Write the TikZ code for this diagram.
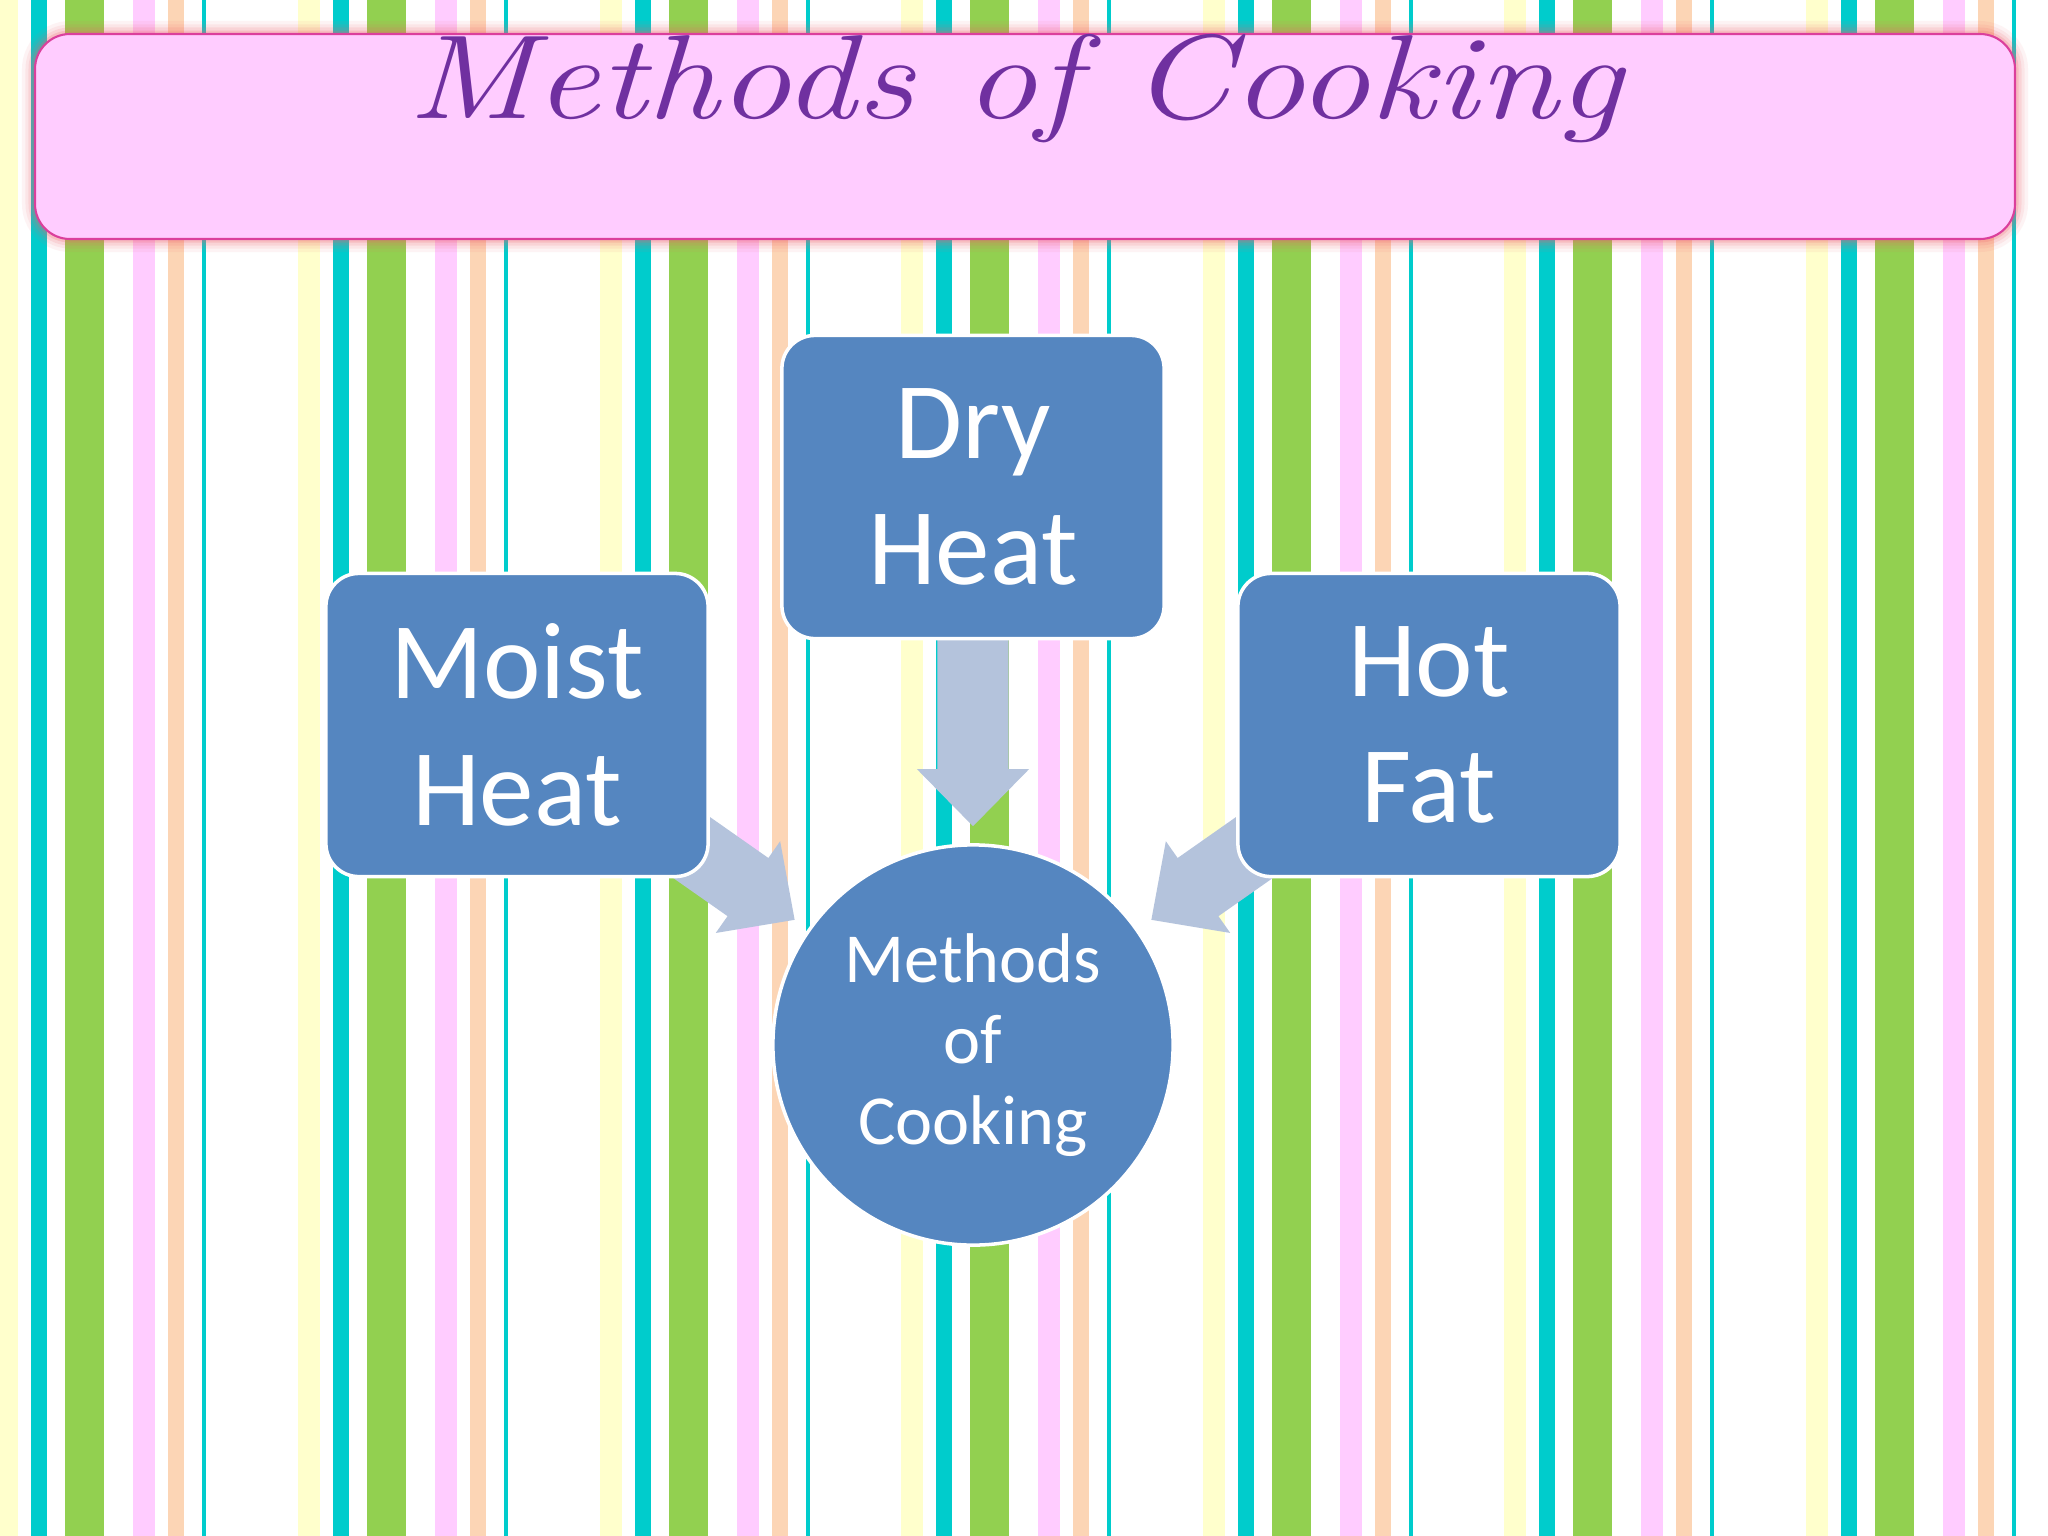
\documentclass[tikz,border=0pt]{standalone}
\usepackage{fontspec}
\newfontfamily\calib{Carlito}
\usetikzlibrary{calc}
\definecolor{styel}{HTML}{FFFFCC}
\definecolor{stcyan}{HTML}{00CCCC}
\definecolor{stgreen}{HTML}{92D050}
\definecolor{stpink}{HTML}{FFCCFF}
\definecolor{storange}{HTML}{FCD5B5}
\definecolor{boxblue}{HTML}{5586C0}
\definecolor{arrblue}{HTML}{B4C3DC}
\definecolor{titlepurple}{HTML}{7030A0}
\definecolor{bannerfill}{HTML}{FFCCFF}
\definecolor{bannerline}{HTML}{DB3F9C}
\definecolor{glowcol}{HTML}{F0606A}
\pgfdeclarelayer{bglayer}
\pgfdeclarelayer{arrlayer}
\pgfsetlayers{bglayer,arrlayer,main}
\tikzset{
  hbox/.style={rectangle, rounded corners=0.33cm, fill=boxblue, draw=white, line width=1pt,
    minimum width=3.82cm, minimum height=3.03cm, text=white, align=center,
    font=\calib\fontsize{31}{36}\selectfont, inner sep=0pt},
  hub/.style={circle, fill=boxblue, draw=white, line width=1pt, minimum size=4cm, inner sep=0pt,
    text=white, align=center, font=\calib\fontsize{20}{23}\selectfont},
  banner/.style={rounded corners=0.35cm},
  titletext/.style={font=\fontsize{34}{40}\selectfont\itshape, text=titlepurple}
}
\newcommand\bkarrow[2]{%
  \coordinate (s) at ($(#1.center)!1cm!(#2.center)$);
  \coordinate (h) at ($(#1.center)!2.82cm!(#2.center)$);
  \coordinate (t) at ($(#1.center)!3.39cm!(#2.center)$);
  \fill[arrblue] ($(s)!0.355cm!90:(#2.center)$) -- ($(h)!0.355cm!90:(#2.center)$)
    -- ($(h)!0.56cm!90:(#2.center)$) -- (t) -- ($(h)!0.56cm!-90:(#2.center)$)
    -- ($(h)!0.355cm!-90:(#2.center)$) -- ($(s)!0.355cm!-90:(#2.center)$) -- cycle;
}
\begin{document}
\begin{tikzpicture}[x=0.01cm,y=-0.01cm]
\useasboundingbox (0,0) rectangle (2048,1536);
\begin{pgfonlayer}{bglayer}
\fill[white] (0,0) rectangle (2048,1536);
\foreach \k in {-1,0,...,5}{
  \pgfmathsetmacro\b{298+301.6*\k}
  \fill[styel] (\b,0) rectangle ({\b+22},1536);
  \fill[stcyan] ({\b+35},0) rectangle ({\b+51},1536);
  \fill[stgreen] ({\b+69},0) rectangle ({\b+108},1536);
  \fill[stpink] ({\b+137},0) rectangle ({\b+159},1536);
  \fill[storange] ({\b+172},0) rectangle ({\b+188},1536);
  \fill[stcyan] ({\b+206},0) rectangle ({\b+210},1536);
}
\foreach \w/\o in {0.26/0.07,0.19/0.09,0.13/0.13,0.07/0.2}{
  \draw[banner, glowcol, line width=\w cm, opacity=\o] (35,34) rectangle (2015,239);
}
\filldraw[banner, fill=bannerfill, draw=bannerline, line width=0.6pt] (35,34) rectangle (2015,239);
\end{pgfonlayer}

\node[titletext, anchor=base] (title) at (1015,118) {\scalebox{1.21}[1]{Methods of Cooking}};

\node[hbox] (dry) at (973,487) {Dry\\Heat};
\node[hbox] (moist) at (517,725) {Moist\\Heat};
\node[hbox] (hot) at (1429,725) {Hot\\Fat};
\node[hub] (mc) at (973,1045) {Methods\\of\\Cooking};

\begin{pgfonlayer}{arrlayer}
\bkarrow{dry}{mc}
\bkarrow{moist}{mc}
\bkarrow{hot}{mc}
\end{pgfonlayer}
\end{tikzpicture}
\end{document}
